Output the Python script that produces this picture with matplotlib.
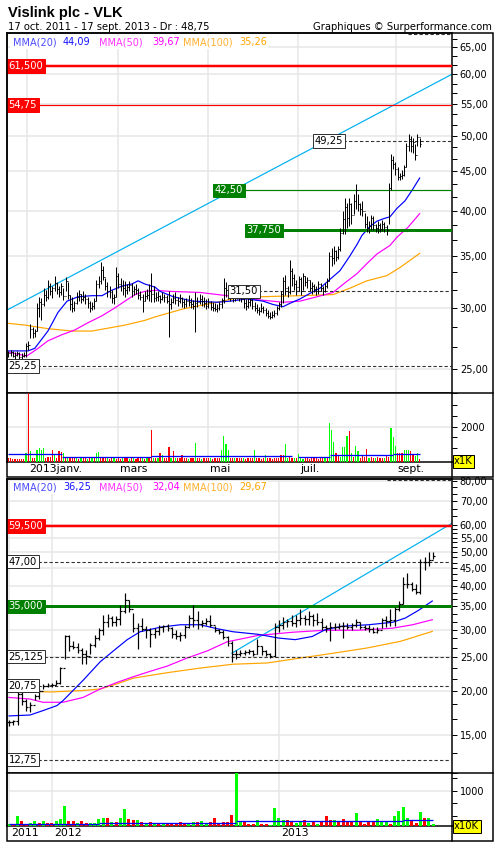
"""
Vislink plc - VLK : daily chart (top) and weekly chart (bottom), Surperformance style
"""
import matplotlib
matplotlib.use("Agg")
import matplotlib.pyplot as plt
from matplotlib.patches import Rectangle
from matplotlib.lines import Line2D
from matplotlib.ticker import NullFormatter
from matplotlib.transforms import ScaledTranslation, blended_transform_factory

# ---------------- daily data (top chart) ----------------
day_high = [
    26.4, 26.5, 26.4, 26.3, 26.4, 26.3, 26.2, 26.3, 27.0, 27.2,
    28.6, 28.3, 28.2, 30.4, 31.0, 30.9, 31.8, 31.6, 32.6, 32.3,
    32.0, 33.0, 32.4, 32.0, 32.3, 31.8, 32.9, 32.4, 31.2, 31.0,
    30.6, 31.4, 31.6, 31.3, 31.5, 31.3, 31.0, 30.6, 30.5, 30.9,
    32.6, 33.0, 34.4, 34.0, 32.8, 32.4, 32.0, 31.6, 31.3, 33.9,
    33.3, 32.8, 32.6, 32.5, 32.2, 32.5, 32.3, 32.0, 32.2, 31.8,
    31.5, 31.3, 31.5, 31.7, 32.2, 33.3, 32.0, 31.4, 31.5, 31.2,
    31.4, 31.3, 31.2, 31.5, 30.9, 31.3, 31.4, 31.0, 31.3, 31.0,
    30.8, 30.9, 31.2, 30.9, 30.7, 31.4, 31.0, 31.3, 31.2, 31.0,
    30.8, 30.9, 30.6, 30.5, 30.4, 30.3, 30.5, 30.9, 32.8, 32.4,
    31.8, 31.5, 31.3, 31.4, 31.5, 31.3, 31.2, 31.0, 30.8, 30.9,
    31.0, 30.8, 30.5, 30.3, 30.1, 30.4, 30.2, 30.0, 29.8, 29.6,
    29.7, 29.8, 30.2, 30.5, 31.5, 32.9, 33.1, 32.0, 34.6, 33.8,
    33.2, 32.6, 33.0, 32.9, 33.3, 33.0, 32.9, 32.6, 32.4, 32.2,
    32.0, 32.5, 32.3, 32.0, 32.3, 32.8, 35.4, 35.8, 36.0, 35.6,
    36.0, 38.0, 40.0, 41.5, 41.0, 41.6, 41.0, 42.0, 43.3, 42.0,
    41.0, 41.2, 39.8, 39.4, 38.8, 39.5, 39.4, 38.5, 38.8, 38.6,
    38.9, 38.7, 38.4, 43.4, 47.3, 47.0, 46.2, 45.5, 44.8, 45.2,
    45.8, 48.9, 50.2, 50.0, 49.6, 48.8, 50.2, 49.6,
]
day_low = [
    25.9, 26.0, 25.9, 25.8, 26.0, 25.8, 25.7, 25.9, 25.9, 26.5,
    27.4, 27.4, 27.5, 28.0, 29.2, 28.9, 30.2, 30.6, 30.8, 31.2,
    30.9, 31.5, 31.3, 31.0, 31.2, 30.7, 31.5, 30.8, 29.8, 29.6,
    29.7, 30.3, 30.6, 30.4, 30.6, 30.3, 30.0, 29.6, 29.8, 29.9,
    30.6, 31.8, 32.2, 32.6, 31.6, 31.0, 30.9, 30.4, 30.3, 31.0,
    31.8, 31.5, 31.2, 31.0, 31.3, 31.5, 31.0, 31.2, 31.3, 30.8,
    30.7, 29.6, 30.6, 30.8, 30.6, 30.5, 30.5, 30.6, 30.6, 30.4,
    30.7, 30.5, 30.4, 27.5, 29.9, 30.4, 30.3, 30.2, 30.4, 30.1,
    30.0, 30.1, 30.2, 30.0, 29.9, 27.9, 30.1, 30.3, 30.2, 30.1,
    29.9, 30.0, 29.8, 29.7, 29.7, 29.6, 29.8, 30.0, 30.4, 31.0,
    30.8, 30.6, 30.5, 30.6, 30.8, 30.6, 30.5, 30.0, 29.8, 30.0,
    30.2, 29.9, 29.7, 29.5, 29.4, 29.6, 29.5, 29.3, 29.1, 29.0,
    29.1, 29.2, 29.4, 29.8, 30.1, 30.4, 31.2, 31.0, 31.3, 32.0,
    31.6, 31.2, 31.5, 31.2, 31.6, 32.0, 31.8, 31.5, 31.3, 31.4,
    31.2, 31.3, 31.5, 31.2, 31.4, 31.8, 32.5, 34.0, 34.2, 34.5,
    34.7, 35.5, 37.4, 37.4, 38.0, 38.2, 38.5, 39.6, 40.2, 40.0,
    39.5, 39.4, 38.0, 37.6, 37.5, 37.8, 37.8, 37.6, 37.5, 37.6,
    37.7, 37.6, 37.2, 38.5, 42.5, 45.3, 44.5, 43.8, 43.8, 43.9,
    44.3, 45.6, 47.8, 47.6, 47.5, 46.5, 48.5, 48.3,
]
day_close = [
    26.2, 26.3, 26.0, 26.1, 26.2, 25.9, 26.0, 26.1, 26.8, 26.9,
    28.2, 27.8, 28.0, 30.0, 30.5, 30.3, 31.2, 31.0, 32.0, 31.5,
    31.8, 32.3, 31.7, 31.4, 32.0, 31.1, 32.5, 31.2, 30.3, 30.0,
    30.4, 31.0, 31.3, 30.8, 31.0, 30.8, 30.4, 30.0, 30.2, 30.6,
    32.2, 32.5, 33.6, 32.9, 32.0, 31.5, 31.4, 30.9, 31.0, 33.0,
    32.2, 32.0, 31.8, 31.6, 31.9, 32.1, 31.5, 31.7, 31.6, 31.2,
    31.0, 30.6, 31.1, 31.2, 31.5, 31.3, 30.9, 31.0, 31.1, 30.8,
    31.0, 31.0, 30.6, 30.3, 30.5, 30.9, 30.7, 30.6, 30.9, 30.5,
    30.3, 30.6, 30.5, 30.3, 30.2, 30.4, 30.5, 30.8, 30.6, 30.4,
    30.2, 30.5, 30.1, 30.0, 29.9, 30.0, 30.3, 30.7, 31.8, 31.6,
    31.2, 31.0, 30.9, 31.0, 31.2, 31.0, 30.8, 30.4, 30.2, 30.5,
    30.7, 30.2, 30.0, 29.8, 29.7, 30.0, 29.8, 29.5, 29.3, 29.2,
    29.4, 29.5, 30.0, 30.3, 31.3, 32.5, 31.8, 31.4, 33.5, 32.8,
    32.2, 31.9, 32.7, 31.5, 33.0, 32.4, 32.6, 31.8, 32.0, 31.7,
    31.5, 32.2, 31.8, 31.5, 32.0, 32.5, 35.0, 34.8, 35.5, 34.9,
    35.7, 37.5, 39.0, 40.5, 39.2, 40.8, 39.5, 41.2, 42.5, 40.8,
    40.2, 40.0, 38.5, 38.0, 38.2, 39.2, 38.3, 38.0, 38.3, 37.9,
    38.5, 38.1, 37.8, 42.8, 46.5, 46.0, 45.3, 44.2, 44.3, 44.5,
    45.5, 48.5, 49.5, 48.5, 49.0, 47.2, 49.8, 48.75,
]
day_vol = [
    200, 245, 180, 170, 160, 190, 150, 170, 490, 4200,
    600, 220, 200, 680, 770, 680, 770, 250, 300, 280,
    680, 400, 250, 600, 560, 490, 200, 230, 250, 220,
    200, 230, 180, 250, 200, 220, 180, 240, 200, 220,
    490, 550, 300, 250, 200, 220, 180, 200, 230, 190,
    250, 180, 200, 220, 200, 180, 250, 200, 190, 220,
    200, 230, 180, 200, 250, 1815, 220, 200, 250, 490,
    400, 220, 250, 870, 200, 600, 250, 200, 230, 400,
    220, 200, 180, 250, 200, 1100, 230, 200, 180, 220,
    200, 250, 220, 180, 200, 230, 250, 680, 1490, 1000,
    680, 250, 220, 200, 250, 230, 200, 220, 180, 250,
    230, 220, 680, 250, 200, 180, 230, 400, 220, 200,
    180, 230, 200, 250, 380, 380, 1000, 250, 300, 220,
    250, 220, 440, 200, 180, 200, 220, 180, 200, 230,
    200, 180, 220, 200, 250, 230, 2230, 1820, 1140, 490,
    400, 300, 870, 870, 1490, 1780, 490, 300, 910, 600,
    250, 350, 300, 720, 250, 300, 230, 250, 300, 220,
    250, 200, 350, 300, 1910, 1430, 910, 490, 490, 490,
    680, 680, 680, 600, 400, 350, 490, 150,
]
day_vol_up = (
    "RRRRRRRRGR" "GRRGGGGRRR" "RGRRRGRGRR" "RGRGRRGRGR" "GGRRRGRRGR"
    "RRGRRGRGRR" "RGRGRRGRGR" "GRRRGRGRRR" "RRGRRGRRGR" "RRGRRRRGGG"
    "GRRGRRRGRR" "RRGRRRRGRR" "RRRRRRGGRR" "GRGGGRRRRR" "RRRRGRGGGR"
    "RGGGGRGRGG" "RRRRGRRGRR" "RGRRGGGRRR" "GGGRRGGR"
)
# volume average (steps): start bar, end bar, value
day_vavg_start = [0, 24.4, 64.9, 98.5, 131.5, 146.2, 174.9]
day_vavg_end = [24.4, 64.9, 98.5, 129.0, 146.2, 174.9, 187.0]
day_vavg = [453, 265, 321, 359, 283, 397, 453]

# moving averages (bar index, value)
d_mma20_x = [0, 9, 12, 18, 22.6, 26.7, 31.7, 38, 42.6, 47, 51.7, 56.2, 59, 62, 66.7,
             69, 75, 84, 95, 100.8, 108.5, 115.8, 120.3, 124.9, 128, 132.6, 137,
             141.7, 146, 150.8, 155.3, 158.5, 160.8, 164.4, 167.6, 170.8, 173.5,
             176.7, 180.3, 183.5, 187]
d_mma20_y = [26.4, 26.4, 26.6, 28.0, 29.6, 30.6, 31.0, 31.1, 31.1, 31.6, 32.0, 32.2,
             32.5, 32.2, 31.9, 31.5, 31.0, 30.6, 30.5, 30.6, 30.8, 30.6, 30.3, 30.1,
             30.4, 30.8, 31.3, 31.8, 32.6, 33.5, 35.0, 36.2, 37.2, 38.2, 38.8, 39.1,
             39.3, 40.3, 41.2, 42.5, 44.09]
d_mma50_x = [0, 8.4, 13.5, 18, 24.4, 30.3, 36.2, 42.6, 48.5, 53, 57.6, 62, 66.7, 73.5,
             87.1, 99.4, 109.9, 124.9, 132.6, 140.3, 147.6, 153, 158.5, 163, 167.6,
             173.5, 176.7, 181.7, 187]
d_mma50_y = [26.3, 26.0, 26.6, 27.2, 27.7, 28.1, 28.7, 29.3, 30.0, 30.6, 31.2, 31.5,
             31.6, 31.5, 31.4, 31.1, 30.8, 30.5, 30.6, 31.0, 31.4, 32.3, 33.2, 34.2,
             35.2, 36.1, 37.0, 38.1, 39.67]
d_mma100_x = [0, 7.6, 18, 29, 38, 44, 53, 62, 66.7, 79.4, 95, 104, 114.4, 132.6, 147.6,
              155.3, 163, 172, 178, 187]
d_mma100_y = [28.65, 28.5, 28.2, 28.0, 28.0, 28.2, 28.5, 28.9, 29.2, 29.9, 30.5, 30.9,
              31.0, 31.1, 31.2, 31.8, 32.5, 33.0, 33.8, 35.26]

day_ticks = [8.5, 49.9, 90.8, 131.7, 176.2]
day_labels = ["2013janv.", "mars", "mai", "juil.", "sept."]

# ---------------- weekly data (bottom chart) ----------------
wk_high = [
    16.6, 16.6, 20.2, 19.9, 19.0, 18.6, 19.7, 20.4, 21.0, 21.1,
    21.1, 21.5, 23.5, 29.0, 29.0, 27.8, 27.5, 26.6, 26.3, 27.4,
    29.0, 30.3, 33.0, 33.2, 32.9, 32.8, 35.2, 38.2, 36.5, 33.5,
    31.3, 32.5, 30.8, 30.4, 30.3, 31.0, 31.0, 31.2, 30.6, 30.0,
    29.5, 31.0, 33.0, 35.3, 34.0, 32.0, 32.5, 33.0, 30.8, 30.2,
    30.0, 28.8, 27.8, 26.3, 26.2, 26.3, 26.5, 26.2, 28.3, 27.0,
    26.2, 25.7, 31.3, 32.0, 32.6, 32.2, 33.0, 33.0, 34.3, 33.0,
    34.0, 33.2, 33.5, 32.5, 31.0, 31.5, 31.3, 31.4, 31.5, 31.3,
    31.3, 32.2, 31.5, 31.0, 31.0, 30.6, 30.5, 32.5, 32.8, 34.5,
    34.8, 36.3, 42.5, 43.5, 41.0, 40.5, 47.7, 48.5, 50.0, 50.0,
]
wk_low = [
    15.9, 16.0, 16.0, 18.3, 17.6, 17.5, 18.9, 19.0, 20.3, 20.6,
    20.6, 20.8, 21.0, 24.8, 26.0, 26.4, 25.8, 23.9, 23.9, 25.6,
    26.8, 28.0, 29.0, 30.5, 30.8, 30.7, 31.0, 33.5, 33.8, 29.5,
    26.5, 29.8, 28.5, 26.7, 28.5, 29.0, 29.6, 29.8, 28.5, 28.3,
    27.9, 28.5, 30.3, 30.5, 30.2, 30.6, 31.0, 30.5, 29.6, 29.2,
    28.2, 27.0, 24.2, 24.8, 25.2, 25.4, 25.5, 25.3, 25.5, 25.4,
    25.3, 24.9, 25.0, 29.6, 30.2, 30.5, 30.8, 30.5, 31.0, 31.0,
    31.0, 30.8, 31.0, 30.0, 29.5, 27.8, 30.0, 30.2, 28.5, 30.2,
    30.0, 30.5, 30.2, 30.0, 29.6, 29.3, 29.4, 30.3, 30.5, 30.8,
    30.8, 34.0, 35.5, 39.5, 38.8, 38.0, 38.0, 44.6, 45.8, 47.9,
]
wk_close = [
    16.3, 16.4, 19.6, 18.7, 18.0, 18.3, 19.4, 20.0, 20.7, 20.8,
    20.9, 21.1, 23.3, 28.8, 27.0, 26.8, 26.3, 25.6, 25.3, 27.1,
    28.5, 29.9, 31.5, 32.5, 31.5, 32.2, 34.0, 36.5, 34.3, 30.3,
    30.8, 30.2, 30.0, 29.2, 29.8, 30.5, 30.8, 30.4, 29.2, 28.8,
    29.0, 30.5, 32.5, 32.0, 31.2, 31.3, 31.8, 31.0, 30.0, 29.6,
    28.6, 27.4, 25.6, 25.6, 25.8, 25.9, 26.0, 25.5, 26.9, 26.0,
    25.6, 25.2, 30.5, 31.0, 31.5, 31.8, 31.4, 32.0, 32.5, 32.3,
    32.8, 31.9, 31.5, 30.6, 30.3, 30.5, 30.6, 30.8, 30.7, 30.5,
    30.9, 31.5, 30.5, 30.4, 30.2, 29.6, 30.0, 31.9, 31.7, 32.0,
    34.5, 35.5, 40.5, 40.5, 39.2, 38.5, 47.0, 46.8, 47.5, 48.75,
]
wk_vol = [
    48, 48, 283, 140, 30, 80, 140, 80, 140, 80,
    80, 140, 195, 566, 140, 140, 80, 140, 90, 80,
    80, 195, 240, 220, 110, 110, 230, 481, 195, 170,
    170, 110, 70, 110, 70, 80, 60, 70, 80, 70,
    110, 70, 80, 110, 110, 140, 80, 110, 240, 60,
    110, 110, 311, 1600, 140, 120, 60, 60, 170, 60,
    60, 30, 519, 230, 170, 170, 120, 90, 120, 170,
    80, 120, 60, 110, 283, 170, 170, 120, 195, 120,
    120, 358, 120, 60, 120, 120, 195, 120, 120, 60,
    283, 425, 529, 230, 140, 90, 387, 240, 240, 55,
]
wk_vol_up = (
    "GRGRRGGRGR" "RGGGRRGRRG" "GGGRGRGGRR" "GRGRGRGRRR" "RRGGRGGRRR"
    "RRRGGRRRGR" "RGGGGRRGGR" "GRGRRRGRRR" "RGRRRRGGGR" "GGGGRRGRGG"
)
wk_vavg_start = [0, 9.6, 21, 53, 92]
wk_vavg_end = [9.6, 21, 53, 92, 99]
wk_vavg = [48, 66, 85, 142, 170]

w_mma20_x = [0, 4.9, 7.9, 11.2, 12.6, 17.3, 21.3, 25.2, 27.6, 30.6, 35.3, 40, 44.6,
             48.6, 52.3, 58.2, 62.9, 66.8, 70.8, 73.8, 77.8, 83.9, 89.5, 92.5, 95.6, 98.8]
w_mma20_y = [17.0, 17.1, 17.6, 18.2, 18.8, 21.5, 24.3, 26.6, 28.1, 29.6, 30.5, 31.0,
             31.0, 30.2, 29.6, 29.1, 28.4, 28.1, 28.7, 30.0, 30.7, 31.0, 31.5, 32.4,
             34.1, 36.25]
w_mma50_x = [0, 4.9, 7.9, 12.6, 17.3, 21.3, 25.2, 29, 32.9, 36.9, 41.6, 46.3, 50.9,
             58.2, 66.1, 73.8, 81.5, 89.5, 94.2, 98.8]
w_mma50_y = [19.2, 19.0, 18.6, 18.6, 19.2, 20.3, 21.2, 22.0, 22.8, 23.6, 24.9, 26.1,
             27.7, 28.9, 29.5, 29.9, 29.9, 30.3, 31.0, 32.04]
w_mma100_x = [5.6, 9.6, 17.3, 21.3, 25.2, 29, 36.9, 44.6, 52.3, 60.3, 68, 75.7, 83.6,
              91.4, 98.8]
w_mma100_y = [20.0, 19.9, 20.1, 20.3, 21.0, 21.8, 22.6, 23.3, 23.9, 24.1, 24.9, 25.7,
              26.6, 27.8, 29.67]

wk_ticks = [0, 10, 63]
wk_labels = ["2011", "2012", "2013"]

W, H = 500, 850
PX = 0.72  # one pixel in points at dpi 100
GRID = "#e6e6e6"
GREEN = "#008000"
SKY = "#00b0f0"
FONT = "DejaVu Sans"


def fx(px):
    return px / W


def fy(py):
    return 1 - py / H


def add_axes(fig, left, top, right, bottom):
    return fig.add_axes([fx(left), fy(bottom), (right - left) / W, (bottom - top) / H])


def fline(fig, x0, y0, x1, y1):
    fig.add_artist(Line2D([fx(x0), fx(x1)], [fy(y0), fy(y1)], color="black",
                          lw=1.5 * PX, transform=fig.transFigure))


def fmt(v):
    return f"{v:.2f}".replace(".", ",")


def style_axes(ax):
    for s in ax.spines.values():
        s.set_linewidth(1.5 * PX)
    ax.set_axisbelow(True)
    ax.yaxis.tick_right()
    ax.tick_params(axis="y", which="both", direction="out", length=5 * PX,
                   width=PX, labelsize=7, pad=2, labelfontfamily=FONT)
    ax.tick_params(axis="x", length=0)
    ax.grid(True, color=GRID, lw=1.5 * PX)


def price_panel(ax, xs, high, low, close, tick_w, bar_lw, ylim, majors, minors, xlim,
                ticks):
    ax.set_yscale("log")
    ax.set_ylim(*ylim)
    ax.set_xlim(*xlim)
    ax.set_yticks(majors)
    ax.set_yticklabels([fmt(v) for v in majors])
    ax.set_yticks(minors, minor=True)
    ax.yaxis.set_minor_formatter(NullFormatter())
    ax.set_xticks(ticks)
    ax.set_xticklabels([])
    style_axes(ax)
    opens = [close[0]] + close[:-1]
    ax.vlines(xs, low, high, color="black", lw=bar_lw, zorder=4)
    ax.hlines(opens, [x - tick_w for x in xs], xs, color="black", lw=bar_lw, zorder=4)
    ax.hlines(close, xs, [x + tick_w for x in xs], color="black", lw=bar_lw, zorder=4)


def level(ax, y, text, style, box_x=0.0034, line_from=0.0):
    tr = blended_transform_factory(ax.transAxes, ax.transData)
    if style == "red":
        ax.axhline(y, line_from, 1, color="red", lw=2.5 * PX, zorder=3)
    elif style == "red_thin":
        ax.axhline(y, line_from, 1, color="red", lw=1.2 * PX, zorder=3)
    elif style == "green":
        ax.axhline(y, line_from, 1, color=GREEN, lw=3 * PX, zorder=3)
    elif style == "green_thin":
        ax.axhline(y, line_from, 1, color=GREEN, lw=1.2 * PX, zorder=3)
    else:
        ax.axhline(y, line_from, 1, color="#333333", lw=1.1 * PX, ls=(0, (3, 2)),
                   zorder=3)
    if style.startswith("red"):
        fc, ec, tc = "red", "red", "white"
    elif style.startswith("green"):
        fc, ec, tc = GREEN, GREEN, "white"
    else:
        fc, ec, tc = "white", "#333333", "black"
    ax.text(box_x, y, text, transform=tr, va="center", ha="left", fontsize=7.2,
            family=FONT, color=tc, zorder=6,
            bbox=dict(boxstyle="square,pad=0.18", fc=fc, ec=ec, lw=PX))


def legend(fig, ytop, vals):
    fig.add_artist(Rectangle((fx(10), fy(ytop + 13)), 258 / W, 13 / H, fc="white",
                             ec="none", transform=fig.transFigure, zorder=2))
    items = [("MMA(20)", 13, "#4a4aff"), (vals[0], 63, "#1414ff"),
             ("MMA(50)", 99, "#ff33ff"), (vals[1], 152, "#ff00ff"),
             ("MMA(100)", 183, "#ffb030"), (vals[2], 239, "#ffa500")]
    for txt, x, c in items:
        fig.text(fx(x), fy(ytop + 6.5), txt, color=c, fontsize=7, family=FONT,
                 va="center", ha="left", zorder=3)


def volume_panel(fig, ax, xs, vol, up, width, ylim, major, minors, xlim, ticks, labels):
    ax.set_xlim(*xlim)
    ax.set_ylim(*ylim)
    ax.set_yticks([major])
    ax.set_yticklabels([str(major)])
    ax.set_yticks(minors, minor=True)
    ax.yaxis.set_minor_formatter(NullFormatter())
    style_axes(ax)
    ax.set_xticks(ticks)
    ax.set_xticklabels(labels)
    ax.tick_params(axis="x", pad=1.5, labelsize=7.8, labelfontfamily=FONT)
    off = ScaledTranslation(2 / 100, 0, fig.dpi_scale_trans)
    for lab in ax.get_xticklabels():
        lab.set_horizontalalignment("left")
        lab.set_transform(lab.get_transform() + off)
    colors = ["#00ff00" if c == "G" else "#ff0000" for c in up]
    ax.bar(xs, vol, width=width, color=colors, zorder=3)


def main() -> None:
    fig = plt.figure(figsize=(W / 100, H / 100), dpi=100)
    fig.patch.set_facecolor("white")

    fig.text(fx(8), fy(13), "Vislink plc - VLK", fontsize=10.5, weight="bold",
             family="Liberation Sans", va="center", ha="left")
    fig.text(fx(8), fy(27), "17 oct. 2011 - 17 sept. 2013 - Dr : 48,75", fontsize=7.2,
             family=FONT, va="center", ha="left")
    fig.text(fx(492), fy(27), "Graphiques © Surperformance.com", fontsize=7.2,
             family=FONT, va="center", ha="right")

    # ---------- top: daily ----------
    dx = list(range(len(day_close)))
    dxlim = (-0.6, 201.7)
    ax1 = add_axes(fig, 7, 33, 452, 393)
    price_panel(ax1, dx, day_high, day_low, day_close, 0.45, 1.0 * PX, (23.3, 67.8),
                [25, 30, 35, 40, 45, 50, 55, 60, 65],
                [23.33, 26.67, 28.33, 31.67, 33.33, 36.67, 38.33, 41.67, 43.33,
                 46.67, 48.33, 51.67, 53.33, 56.67, 58.33, 61.67, 63.33, 66.67],
                dxlim, day_ticks)
    ax1.plot([dxlim[0], dxlim[1]], [29.8, 60.0], color=SKY, lw=1.2 * PX, zorder=2)
    ax1.plot(d_mma100_x, d_mma100_y, color="#ffa500", lw=1.2 * PX, zorder=3)
    ax1.plot(d_mma50_x, d_mma50_y, color="#ff00ff", lw=1.2 * PX, zorder=3)
    ax1.plot(d_mma20_x, d_mma20_y, color="#0000ff", lw=1.2 * PX, zorder=3)
    level(ax1, 61.5, "61,500", "red")
    level(ax1, 54.75, "54,75", "red_thin")
    level(ax1, 49.25, "49,25", "dash", box_x=0.691, line_from=0.755)
    level(ax1, 42.5, "42,50", "green_thin", box_x=0.466, line_from=0.535)
    level(ax1, 37.75, "37,750", "green", box_x=0.538, line_from=0.613)
    level(ax1, 31.5, "31,50", "dash", box_x=0.5, line_from=0.564)
    level(ax1, 25.25, "25,25", "dash", line_from=0.067)
    ax1.axhline(67.55, 0.901, 1, color="#333333", lw=1.1 * PX, ls=(0, (3, 2)), zorder=3)
    legend(fig, 36, ["44,09", "39,67", "35,26"])

    axv1 = add_axes(fig, 7, 393, 452, 462)
    volume_panel(fig, axv1, dx, day_vol, day_vol_up, 0.55, (0, 3909), 2000,
                 [775, 1390, 2610, 3225], dxlim, day_ticks, day_labels)
    axv1.hlines(day_vavg, day_vavg_start, day_vavg_end, color="#0000ff", lw=1.3 * PX,
                zorder=4)

    # ---------- bottom: weekly ----------
    wx = list(range(len(wk_close)))
    wxlim = (-0.47, 103.4)
    ax2 = add_axes(fig, 7, 479, 452, 773)
    price_panel(ax2, wx, wk_high, wk_low, wk_close, 0.45, 1.2 * PX, (11.9, 81.0),
                [15, 20, 25, 30, 35, 40, 45, 50, 55, 60, 70, 80],
                [11.67, 13.33, 16.67, 18.33, 21.67, 23.33, 26.67, 28.33, 31.67,
                 33.33, 36.67, 38.33, 41.67, 43.33, 46.67, 48.33, 51.67, 53.33,
                 56.67, 58.33, 63.33, 66.67, 73.33, 76.67],
                wxlim, wk_ticks)
    ax2.plot([52.0, wxlim[1]], [25.7, 60.5], color=SKY, lw=1.2 * PX, zorder=2)
    ax2.plot(w_mma100_x, w_mma100_y, color="#ffa500", lw=1.2 * PX, zorder=3)
    ax2.plot(w_mma50_x, w_mma50_y, color="#ff00ff", lw=1.2 * PX, zorder=3)
    ax2.plot(w_mma20_x, w_mma20_y, color="#0000ff", lw=1.2 * PX, zorder=3)
    level(ax2, 59.5, "59,500", "red")
    level(ax2, 47.0, "47,00", "dash", line_from=0.07)
    level(ax2, 35.0, "35,000", "green")
    level(ax2, 25.125, "25,125", "dash", line_from=0.083)
    level(ax2, 20.75, "20,75", "dash", line_from=0.069)
    level(ax2, 12.75, "12,75", "dash", line_from=0.069)
    ax2.axhline(80.6, 0.854, 1, color="#333333", lw=1.1 * PX, ls=(0, (3, 2)), zorder=3)
    legend(fig, 481, ["36,25", "32,04", "29,67"])

    axv2 = add_axes(fig, 7, 773, 452, 826)
    volume_panel(fig, axv2, wx, wk_vol, wk_vol_up, 0.7, (0, 1501), 1000,
                 [290, 645, 1355], wxlim, wk_ticks, wk_labels)
    axv2.hlines(wk_vavg, wk_vavg_start, wk_vavg_end, color="#0000ff", lw=1.3 * PX,
                zorder=4)

    # ---------- frames ----------
    for top, bottom in ((33, 477), (479, 841)):
        fig.add_artist(Rectangle((fx(7), fy(bottom)), 486 / W, (bottom - top) / H,
                                 fill=False, ec="black", lw=1.5 * PX,
                                 transform=fig.transFigure, zorder=5))
    fline(fig, 452, 393, 493, 393)
    fline(fig, 452, 773, 493, 773)
    fline(fig, 452, 462, 452, 477)
    fline(fig, 452, 826, 452, 841)

    for txt, x, y in (("x1K", 454, 461.5), ("x10K", 454, 826)):
        fig.text(fx(x), fy(y), txt, fontsize=7.2, family=FONT, va="center", ha="left",
                 bbox=dict(boxstyle="square,pad=0.15", fc="#ffff00", ec="black", lw=PX))

    fig.savefig("out.png", dpi=100)


if __name__ == "__main__":
    main()
